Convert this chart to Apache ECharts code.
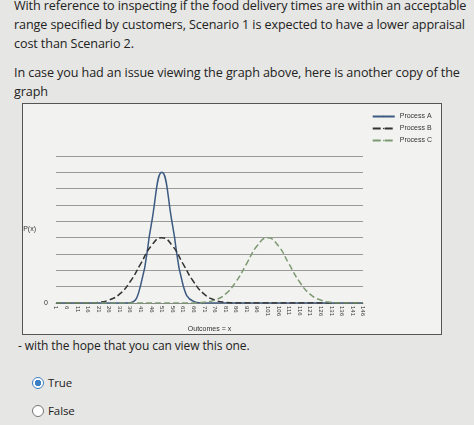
<!DOCTYPE html>
<html><head><meta charset="utf-8">
<script src="https://cdn.jsdelivr.net/npm/echarts@6/dist/echarts.min.js"></script>
<style>
body{margin:0;width:474px;height:425px;background:#e6e6e4;font-family:"Open Sans",sans-serif;color:#222;position:relative;overflow:hidden}
.t{position:absolute;left:14px;font-size:12.6px;line-height:19px;white-space:nowrap;letter-spacing:-0.1px}
#chart{position:absolute;left:22px;top:103px;width:418px;height:230px;border:1px solid #555;background:#f2f2f0}
.radio{position:absolute;left:32px;width:10px;height:10px;border-radius:50%;border:1px solid #777;background:#fff}
</style></head><body>
<div class="t" style="top:-4px">With reference to inspecting if the food delivery times are within an acceptable<br>range specified by customers, Scenario 1 is expected to have a lower appraisal<br>cost than Scenario 2.</div>
<div class="t" style="top:63px">In case you had an issue viewing the graph above, here is another copy of the<br>graph</div>
<div id="chart"></div>
<div class="t" style="top:336px;left:18px;font-size:12px">- with the hope that you can view this one.</div>
<div class="radio" style="top:377px;border-color:#3b7fc4;background:radial-gradient(#3b7fc4 45%,#fff 50%)"></div>
<div class="t" style="top:373px;left:48px;font-size:11.5px">True</div>
<div class="radio" style="top:405px"></div>
<div class="t" style="top:401px;left:48px;font-size:11.5px">False</div>
<script>
var categories = ["1","6","11","16","21","26","31","36","41","46","51","56","61","66","71","76","81","86","91","96","101","106","111","116","121","126","131","136","141","146"];
var processA = [0,0,0,0,0,0,0,0.02,1.1,4.8,8,4.8,1.1,0.1,0,0,0,0,0,0,0,0,0,0,0,0,0,0,0,0];
var processB = [0,0,0,0,0.04,0.18,0.54,1.3,2.4,3.5,4,3.5,2.4,1.3,0.54,0.18,0.04,0,0,0,0,0,0,0,0,0,0,0,0,0];
var processC = [0,0,0,0,0,0,0,0,0,0,0,0,0,0,0.04,0.18,0.54,1.3,2.4,3.5,4,3.5,2.4,1.3,0.54,0.18,0.04,0,0,0];
var chart = echarts.init(document.getElementById('chart'));
chart.setOption({
  animation:false,
  legend:{right:4,top:4,orient:'vertical',itemWidth:22,itemHeight:2,itemGap:5,
    textStyle:{fontSize:7,color:'#333'},
    data:['Process A','Process B','Process C']},
  grid:{left:33,right:78,top:52,bottom:31,containLabel:false,outerBoundsMode:'none'},
  xAxis:{type:'category',data:categories,boundaryGap:false,name:'Outcomes = x',nameLocation:'middle',nameGap:23,
    nameTextStyle:{fontSize:7,color:'#333'},
    axisLine:{lineStyle:{color:'#888'}},axisTick:{show:false},
    axisLabel:{rotate:-90,fontSize:6,color:'#333',interval:0,margin:3}},
  yAxis:{type:'value',min:0,max:9,interval:1,name:'P(x)',nameLocation:'middle',nameRotate:0,nameGap:20,
    nameTextStyle:{fontSize:7,color:'#333'},
    axisLabel:{fontSize:7,color:'#333',formatter:function(v){return v===0?'0':'';}},
    splitLine:{lineStyle:{color:'#999'}}},
  series:[
    {name:'Process A',type:'line',smooth:true,symbol:'none',data:processA,lineStyle:{color:'#3c5a82',width:1.5},itemStyle:{color:'#3c5a82'}},
    {name:'Process B',type:'line',smooth:true,symbol:'none',data:processB,lineStyle:{color:'#333',width:1.5,type:'dashed'},itemStyle:{color:'#333'}},
    {name:'Process C',type:'line',smooth:true,symbol:'none',data:processC,lineStyle:{color:'#7d9a72',width:1.5,type:'dashed'},itemStyle:{color:'#7d9a72'}}
  ]
});
</script></body></html>
